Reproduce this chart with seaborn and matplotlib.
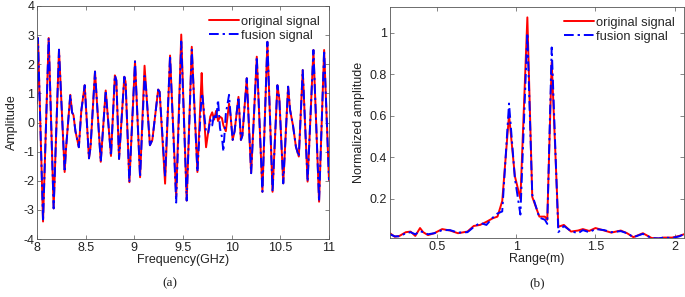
import numpy as np
import pandas as pd
import seaborn as sns
import matplotlib
matplotlib.use("Agg")
import matplotlib.pyplot as plt

# ---------------- data (a) ----------------
freq = [8.00, 8.01, 8.062, 8.12, 8.171, 8.226, 8.284, 8.298, 8.342, 8.36, 8.375, 8.395, 8.43,
        8.455, 8.49, 8.534, 8.55, 8.596, 8.655, 8.706, 8.76, 8.80, 8.815, 8.843, 8.897, 8.91,
        8.949, 9.007, 9.059, 9.105, 9.12, 9.16, 9.185, 9.245, 9.26, 9.316, 9.367, 9.43, 9.482,
        9.538, 9.59, 9.648, 9.692, 9.70, 9.737, 9.76, 9.78, 9.80, 9.82, 9.84, 9.86, 9.88, 9.90,
        9.915, 9.94, 9.973, 9.99, 10.01, 10.03, 10.07, 10.095, 10.11, 10.155, 10.20, 10.258,
        10.316, 10.367, 10.42, 10.47, 10.49, 10.53, 10.58, 10.60, 10.63, 10.66, 10.69, 10.73,
        10.78, 10.84, 10.898, 10.95, 11.0]
orig_a = [0.65, 2.9, -3.4, 2.9, -2.95, 2.5, -1.7, -0.9, 0.95, 0.35, 0.25, -0.3, -0.85,
          0.4, 1.28, -1.23, -0.85, 1.75, -1.35, 1.1, -1.15, 1.62, 1.45, -1.25, 1.57, 1.4,
          -2.05, 2.1, -1.88, 1.95, 1.2, -0.78, -0.6, 1.13, 1.05, -2.1, 2.3, -2.55, 3.02,
          -2.68, 2.6, -1.7, 1.7, 1.0, -0.85, -0.3, 0.2, 0.35, 0.1, 0.4, 0.05, 0.2, 0.15,
          -0.1, -0.3, 0.65, 0.2, -0.6, -0.3, 0.88, -0.6, -0.45, 1.52, -1.74, 2.26,
          -2.38, 2.77, -2.38, 1.28, 0.8, -2.09, 1.23, 0.43, -0.1, -0.83, -1.17, 1.8,
          -2.03, 2.49, -2.72, 2.49, -1.98]
fusion_a = [0.65, 2.9, -3.4, 2.9, -2.95, 2.5, -1.7, -0.9, 0.95, 0.35, 0.25, -0.3, -0.85,
            0.4, 1.28, -1.23, -0.85, 1.75, -1.35, 1.1, -1.15, 1.62, 1.45, -1.25, 1.57, 1.4,
            -2.05, 2.1, -1.88, 1.6, 1.2, -0.78, -0.6, 1.13, 1.05, -1.85, 2.3, -2.75, 2.78,
            -2.68, 2.5, -1.7, 1.0, 0.9, -0.35, -0.35, 0.1, -0.1, 0.3, 0.1, 0.78, -0.2, -0.5,
            -1.0, 0.3, 0.95, 0.2, -0.6, -0.3, 0.88, -0.6, -0.45, 1.52, -1.74, 2.26,
            -2.38, 2.77, -2.38, 1.28, 0.8, -2.09, 1.23, 0.43, -0.1, -0.83, -1.17, 1.8,
            -2.03, 2.49, -2.72, 2.49, -1.98]

# ---------------- data (b) ----------------
rng = [0.2, 0.23, 0.26, 0.30, 0.33, 0.36, 0.39, 0.41, 0.44, 0.48, 0.53, 0.58, 0.63, 0.69,
       0.73, 0.77, 0.81, 0.85, 0.88, 0.91, 0.953, 0.99, 1.025, 1.069, 1.10, 1.145, 1.18,
       1.195, 1.223, 1.265, 1.30, 1.345, 1.39, 1.42, 1.46, 1.50, 1.555, 1.60, 1.66, 1.70,
       1.74, 1.80, 1.855, 1.90, 1.93, 1.985, 2.03, 2.06]
orig_b = [0.035, 0.018, 0.022, 0.04, 0.043, 0.022, 0.06, 0.04, 0.026, 0.035, 0.055, 0.048,
          0.035, 0.043, 0.07, 0.075, 0.09, 0.107, 0.115, 0.19, 0.605, 0.31, 0.2, 1.075, 0.21,
          0.115, 0.115, 0.1, 0.86, 0.066, 0.075, 0.043, 0.048, 0.055, 0.046, 0.06, 0.048,
          0.038, 0.048, 0.035, 0.016, 0.035, 0.012, 0.01, 0.014, 0.014, 0.022, 0.03]
fusion_b = [0.03, 0.02, 0.02, 0.035, 0.04, 0.03, 0.045, 0.04, 0.03, 0.035, 0.05, 0.05,
            0.038, 0.04, 0.065, 0.085, 0.075, 0.11, 0.13, 0.14, 0.66, 0.3, 0.125, 1.0, 0.22,
            0.11, 0.1, 0.08, 0.93, 0.04, 0.07, 0.045, 0.035, 0.05, 0.04, 0.055, 0.05,
            0.04, 0.045, 0.035, 0.016, 0.032, 0.012, 0.01, 0.014, 0.012, 0.02, 0.03]

xt_a = [8, 8.5, 9, 9.5, 10, 10.5, 11]
xtl_a = ["8", "8.5", "9", "9.5", "10", "10.5", "11"]
yt_a = [-4, -3, -2, -1, 0, 1, 2, 3, 4]
xt_b = [0.5, 1, 1.5, 2]
xtl_b = ["0.5", "1", "1.5", "2"]
yt_b = [0.2, 0.4, 0.6, 0.8, 1]
ytl_b = ["0.2", "0.4", "0.6", "0.8", "1"]

sns.set_theme(style="white")
plt.rcParams['font.family'] = ['Liberation Sans', 'DejaVu Sans']

fig = plt.figure(figsize=(6.85, 2.97), dpi=100)
axa = fig.add_axes([37/685, 1-239/297, (329-37)/685, (239-6)/297])
axb = fig.add_axes([390/685, 1-238/297, (684-390)/685, (238-7)/297])

dfa = pd.DataFrame({"f": freq, "o": orig_a, "u": fusion_a})
dfb = pd.DataFrame({"r": rng, "o": orig_b, "u": fusion_b})

fs = 9
for ax, df, xc in [(axa, dfa, "f"), (axb, dfb, "r")]:
    sns.lineplot(data=df, x=xc, y="o", ax=ax, color="#ff0000", lw=1.4,
                 estimator=None, sort=False, label="original signal")
    sns.lineplot(data=df, x=xc, y="u", ax=ax, color="#0000ff", lw=1.4,
                 estimator=None, sort=False, label="fusion signal")
    ax.lines[1].set_dashes([5, 2, 1.2, 2])
    leg = ax.legend(loc="upper right", frameon=False, fontsize=9.3, handlelength=2.3,
                    handletextpad=0.15, borderaxespad=0.35, labelspacing=0.15)
    for s in ax.spines.values():
        s.set_color("#555555")
        s.set_linewidth(0.6)
    ax.tick_params(direction="in", length=3, width=0.5, color="#555555",
                   top=True, right=True, bottom=True, left=True,
                   labelsize=fs, pad=2, labelcolor="#222222")

axa.set_xlim(8, 11)
axa.set_ylim(-4, 4)
axa.set_xticks(xt_a)
axa.set_xticklabels(xtl_a)
axa.set_yticks(yt_a)
axa.set_yticklabels([str(v) for v in yt_a])
axa.set_xlabel("Frequency(GHz)", fontsize=fs, labelpad=0, color="#222222")
axa.set_ylabel("Amplitude", fontsize=fs, labelpad=4, color="#222222")

axb.set_xlim(0.2, 2.06)
axb.set_ylim(0.012, 1.125)
axb.set_xticks(xt_b)
axb.set_xticklabels(xtl_b)
axb.set_yticks(yt_b)
axb.set_yticklabels(ytl_b)
axb.set_xlabel("Range(m)", fontsize=fs, labelpad=0, color="#222222")
axb.set_ylabel("Normalized amplitude", fontsize=fs, labelpad=3.5, color="#222222")

fig.text(170/685, 1-283/297, "(a)", fontsize=9.5, family=["Liberation Serif"],
         ha="center", va="center", color="#222222")
fig.text(537/685, 1-283/297, "(b)", fontsize=9.5, family=["Liberation Serif"],
         ha="center", va="center", color="#222222")

fig.savefig("out.png", dpi=100)
